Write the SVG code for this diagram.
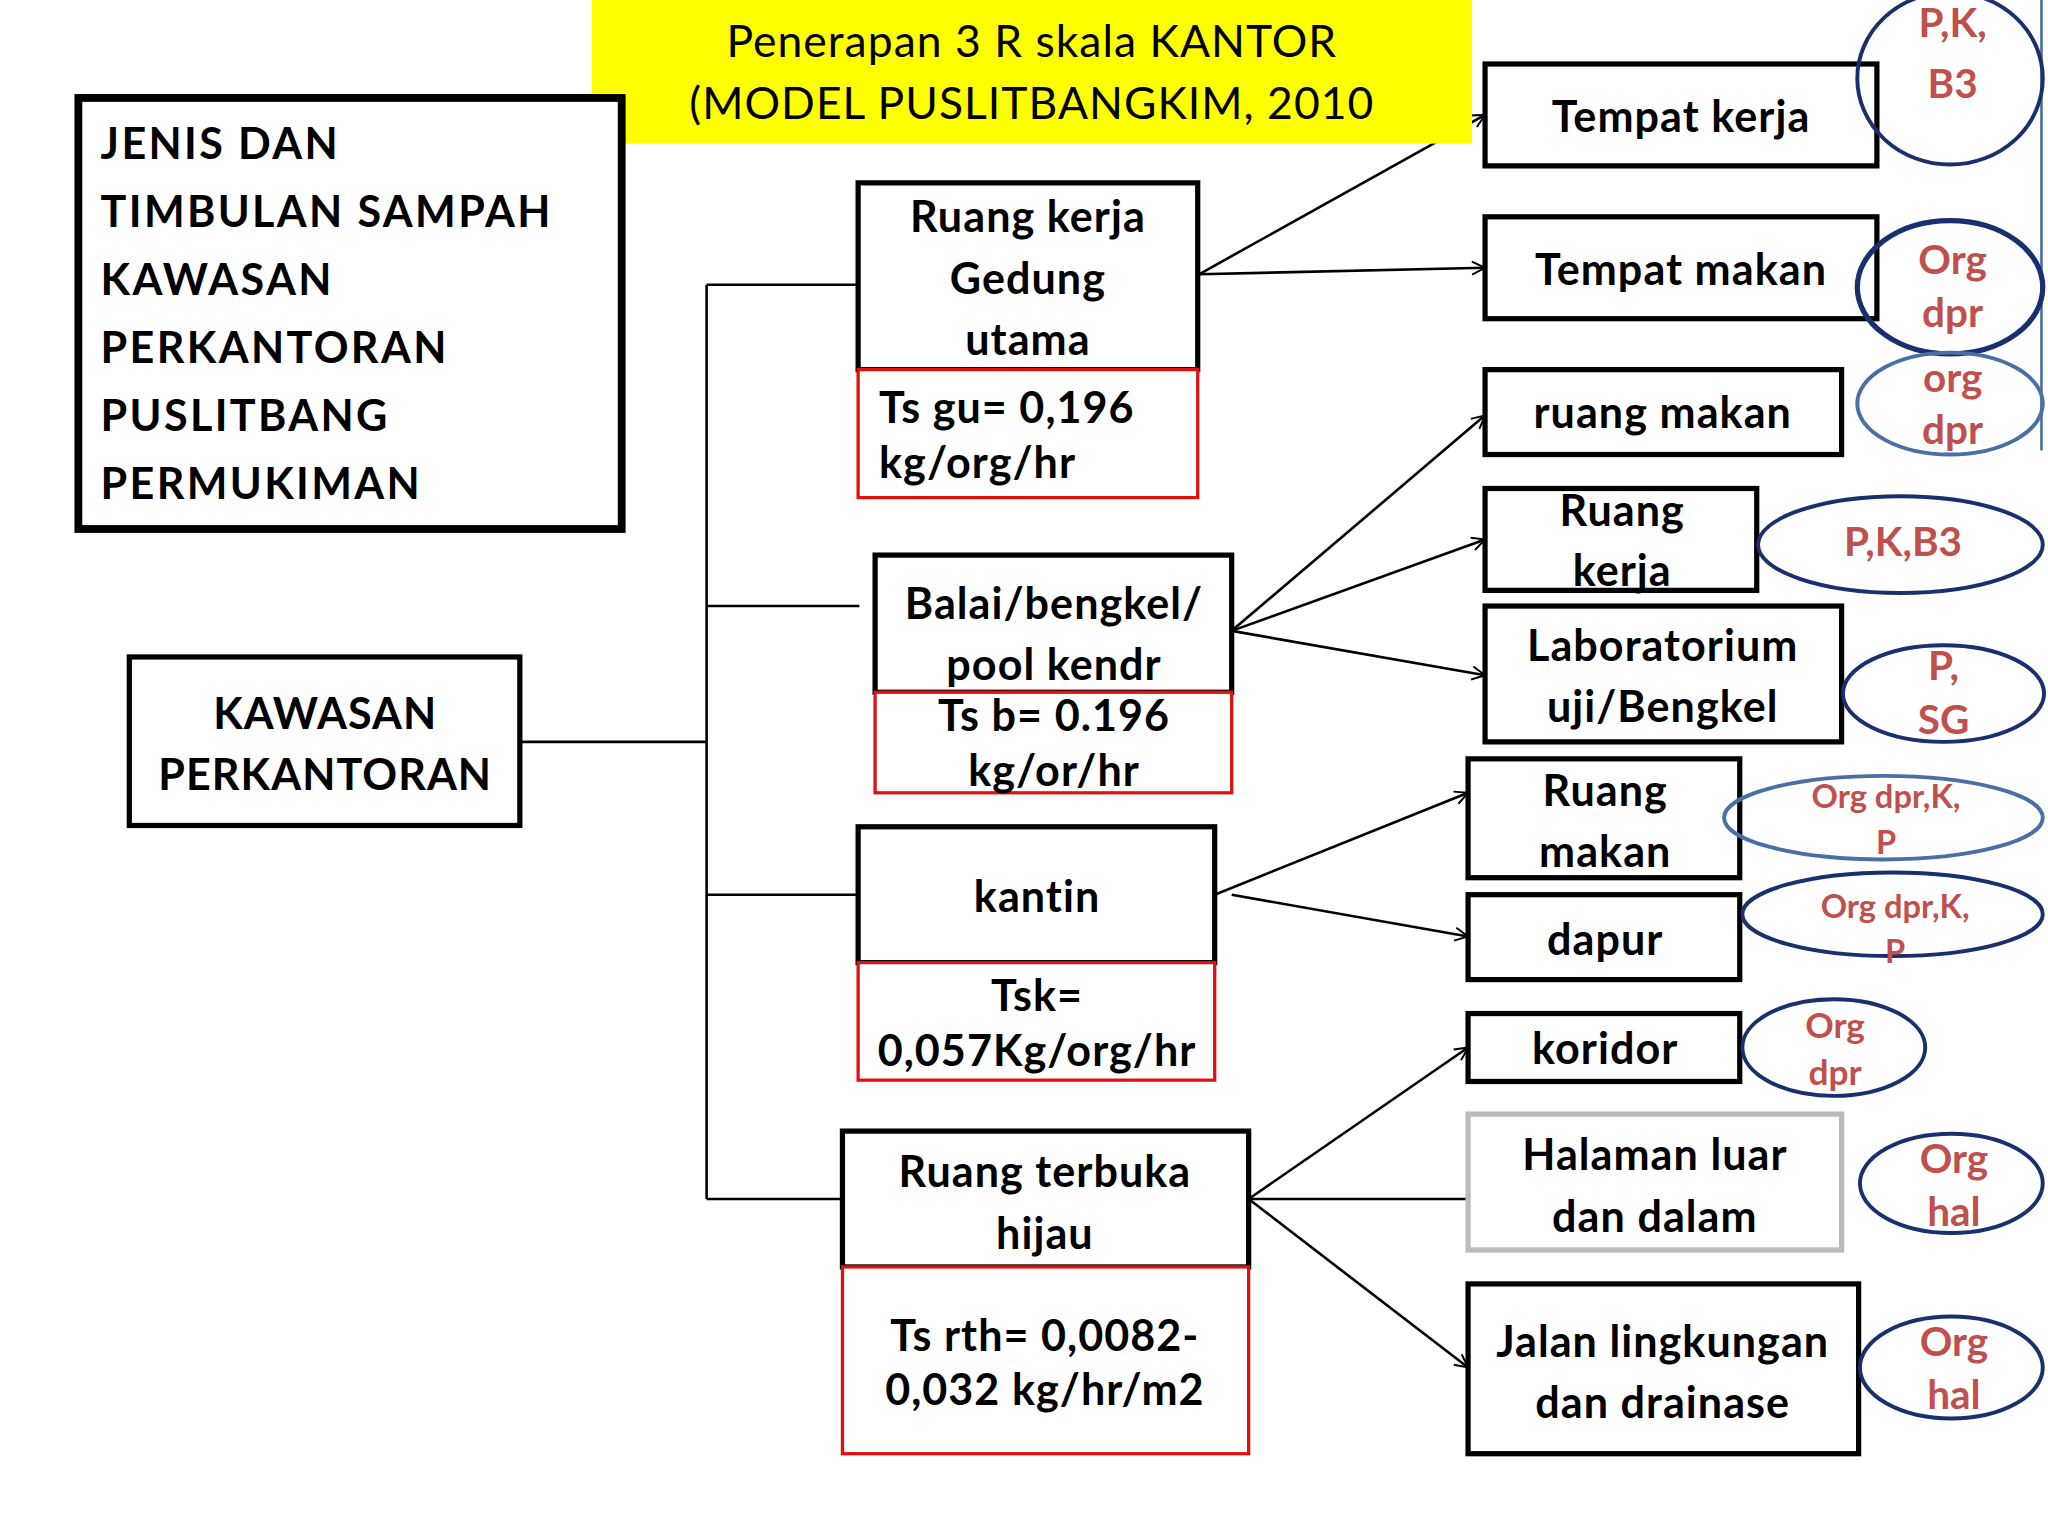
<svg xmlns="http://www.w3.org/2000/svg" width="2048" height="1536" viewBox="0 0 2048 1536">
<defs>
<marker id="ah" viewBox="0 0 12 12" refX="11" refY="6" markerWidth="12" markerHeight="12" markerUnits="userSpaceOnUse" orient="auto"><path d="M1,1 L11,6 L1,11" fill="none" stroke="#000" stroke-width="1.5"/></marker>
<style>
.b{fill:#fff;stroke:#000;stroke-width:4}
.r{fill:#fff;stroke:#e01010;stroke-width:2.5}
.t{font-family:Lato,"Open Sans",sans-serif;font-weight:bold;font-size:33px;letter-spacing:0.8px;fill:#000;text-anchor:middle}
.e{fill:none;stroke:#1a2f6e;stroke-width:3}
.el{fill:none;stroke:#4a6fa5;stroke-width:3}
.c{font-family:Lato,"Open Sans",sans-serif;font-weight:bold;font-size:31px;fill:#c0504d;text-anchor:middle}
.cs{font-family:Lato,"Open Sans",sans-serif;font-weight:bold;font-size:25px;fill:#c0504d;text-anchor:middle}
.l{stroke:#000;stroke-width:2;fill:none}
.a{stroke:#000;stroke-width:2;fill:none;marker-end:url(#ah)}
</style>
</defs>
<rect width="2048" height="1536" fill="#fff"/>
<g transform="scale(1.30612)">
<g id="connectors">
<line class="l" x1="398" y1="568" x2="541" y2="568"/>
<line class="l" x1="541" y1="218" x2="541" y2="918"/>
<line class="l" x1="541" y1="218" x2="670" y2="218"/>
<line class="l" x1="541" y1="464" x2="658" y2="464"/>
<line class="l" x1="541" y1="685" x2="658" y2="685"/>
<line class="l" x1="541" y1="918" x2="645" y2="918"/>
<line class="a" x1="918" y1="210" x2="1137" y2="88"/>
<line class="a" x1="918" y1="210" x2="1137" y2="205"/>
<line class="a" x1="943" y1="483" x2="1137" y2="318"/>
<line class="a" x1="943" y1="483" x2="1137" y2="413"/>
<line class="a" x1="943" y1="483" x2="1137" y2="517"/>
<line class="a" x1="930" y1="685" x2="1124" y2="607"/>
<line class="a" x1="943" y1="685" x2="1124" y2="717"/>
<line class="a" x1="956" y1="918" x2="1124" y2="802"/>
<line class="a" x1="956" y1="918" x2="1137" y2="918"/>
<line class="a" x1="956" y1="918" x2="1124" y2="1047"/>
<line x1="1563" y1="0" x2="1563" y2="345" stroke="#4a6fa5" stroke-width="2"/>
</g>
<g id="title"><rect x="453" y="0" width="674" height="110" fill="#ffff00"/>
<text class="t" style="font-weight:normal;font-size:34px" x="790" y="44">Penerapan 3 R skala KANTOR</text>
<text class="t" style="font-weight:normal;font-size:34px" x="790" y="91">(MODEL PUSLITBANGKIM, 2010</text></g>
<g id="jenis"><rect x="60" y="75" width="416" height="330" fill="#fff" stroke="#000" stroke-width="6"/>
<g class="t" style="text-anchor:start;letter-spacing:1.8px"><text x="77" y="122">JENIS DAN</text><text x="77" y="174">TIMBULAN SAMPAH</text><text x="77" y="226">KAWASAN</text><text x="77" y="278">PERKANTORAN</text><text x="77" y="330">PUSLITBANG</text><text x="77" y="382">PERMUKIMAN</text></g></g>
<g id="kawasan"><rect class="b" x="99" y="503" width="299" height="129"/><text class="t" x="249" y="558">KAWASAN</text><text class="t" x="249" y="605">PERKANTORAN</text></g>
<g id="gedung"><rect class="b" x="657" y="140" width="260" height="143"/><text class="t" x="787" y="178">Ruang kerja</text><text class="t" x="787" y="225">Gedung</text><text class="t" x="787" y="272">utama</text>
<rect class="r" x="657" y="283" width="260" height="98"/><text class="t" style="text-anchor:start" x="673" y="324">Ts gu= 0,196</text><text class="t" style="text-anchor:start" x="673" y="366">kg/org/hr</text></g>
<g id="balai"><rect class="b" x="670" y="425" width="273" height="105"/><text class="t" x="807" y="474">Balai/bengkel/</text><text class="t" x="807" y="521">pool kendr</text>
<rect class="r" x="670" y="530" width="273" height="77"/><text class="t" x="807" y="560">Ts b= 0.196</text><text class="t" x="807" y="602">kg/or/hr</text></g>
<g id="kantin"><rect class="b" x="657" y="633" width="273" height="104"/><text class="t" x="794" y="698">kantin</text>
<rect class="r" x="657" y="737" width="273" height="90"/><text class="t" x="794" y="774">Tsk=</text><text class="t" x="794" y="816">0,057Kg/org/hr</text></g>
<g id="rth"><rect class="b" x="645" y="866" width="311" height="104"/><text class="t" x="800" y="909">Ruang terbuka</text><text class="t" x="800" y="956">hijau</text>
<rect class="r" x="645" y="970" width="311" height="143"/><text class="t" x="800" y="1034">Ts rth=  0,0082-</text><text class="t" x="800" y="1076">0,032 kg/hr/m2</text></g>
<g id="n1"><rect class="b" x="1137" y="49" width="300" height="78"/><text class="t" x="1287" y="101">Tempat kerja</text></g>
<g id="n2"><rect class="b" x="1137" y="166" width="300" height="78"/><text class="t" x="1287" y="218">Tempat makan</text></g>
<g id="n3"><rect class="b" x="1137" y="283" width="273" height="65"/><text class="t" x="1273" y="328">ruang makan</text></g>
<g id="n4"><rect class="b" x="1137" y="374" width="208" height="78"/><text class="t" x="1242" y="403">Ruang</text><text class="t" x="1242" y="449">kerja</text></g>
<g id="n5"><rect class="b" x="1137" y="464" width="273" height="104"/><text class="t" x="1273" y="506">Laboratorium</text><text class="t" x="1273" y="553">uji/Bengkel</text></g>
<g id="n6"><rect class="b" x="1124" y="581" width="208" height="91"/><text class="t" x="1229" y="617">Ruang</text><text class="t" x="1229" y="664">makan</text></g>
<g id="n7"><rect class="b" x="1124" y="685" width="208" height="65"/><text class="t" x="1229" y="731">dapur</text></g>
<g id="n8"><rect class="b" x="1124" y="776" width="208" height="52"/><text class="t" x="1229" y="815">koridor</text></g>
<g id="n9"><rect x="1124" y="853" width="286" height="104" fill="#fff" stroke="#bbb" stroke-width="4"/><text class="t" x="1267" y="896">Halaman luar</text><text class="t" x="1267" y="943">dan dalam</text></g>
<g id="n10"><rect class="b" x="1124" y="983" width="299" height="130"/><text class="t" x="1273" y="1039">Jalan lingkungan</text><text class="t" x="1273" y="1086">dan drainase</text></g>
<g id="e1"><ellipse class="e" cx="1493" cy="60" rx="71" ry="66"/><text class="c" x="1495" y="28">P,K,</text><text class="c" x="1495" y="75">B3</text></g>
<g id="e2"><ellipse class="e" cx="1493" cy="220" rx="71" ry="51" style="stroke-width:4"/><text class="c" x="1495" y="210">Org</text><text class="c" x="1495" y="250">dpr</text></g>
<g id="e3"><ellipse class="el" cx="1493" cy="309" rx="71" ry="39"/><text class="c" x="1495" y="300">org</text><text class="c" x="1495" y="340">dpr</text></g>
<g id="e4"><ellipse class="e" cx="1455" cy="417" rx="109" ry="37"/><text class="c" x="1457" y="426">P,K,B3</text></g>
<g id="e5"><ellipse class="e" cx="1488" cy="531" rx="77" ry="37"/><text class="c" x="1488" y="521">P,</text><text class="c" x="1488" y="562">SG</text></g>
<g id="e6"><ellipse class="el" cx="1442" cy="626" rx="122" ry="32"/><text class="cs" x="1444" y="619">Org dpr,K,</text><text class="cs" x="1444" y="654">P</text></g>
<g id="e7"><ellipse class="e" cx="1449" cy="700" rx="115" ry="32"/><text class="cs" x="1451" y="703">Org dpr,K,</text><text class="cs" x="1451" y="737">P</text></g>
<g id="e8"><ellipse class="e" cx="1404" cy="802" rx="70" ry="37"/><text class="cs" style="font-size:27px" x="1405" y="795">Org</text><text class="cs" style="font-size:27px" x="1405" y="831">dpr</text></g>
<g id="e9"><ellipse class="e" cx="1494" cy="906" rx="70" ry="38"/><text class="c" x="1496" y="898">Org</text><text class="c" x="1496" y="939">hal</text></g>
<g id="e10"><ellipse class="e" cx="1494" cy="1047" rx="70" ry="39"/><text class="c" x="1496" y="1038">Org</text><text class="c" x="1496" y="1079">hal</text></g>
</g>
</svg>
